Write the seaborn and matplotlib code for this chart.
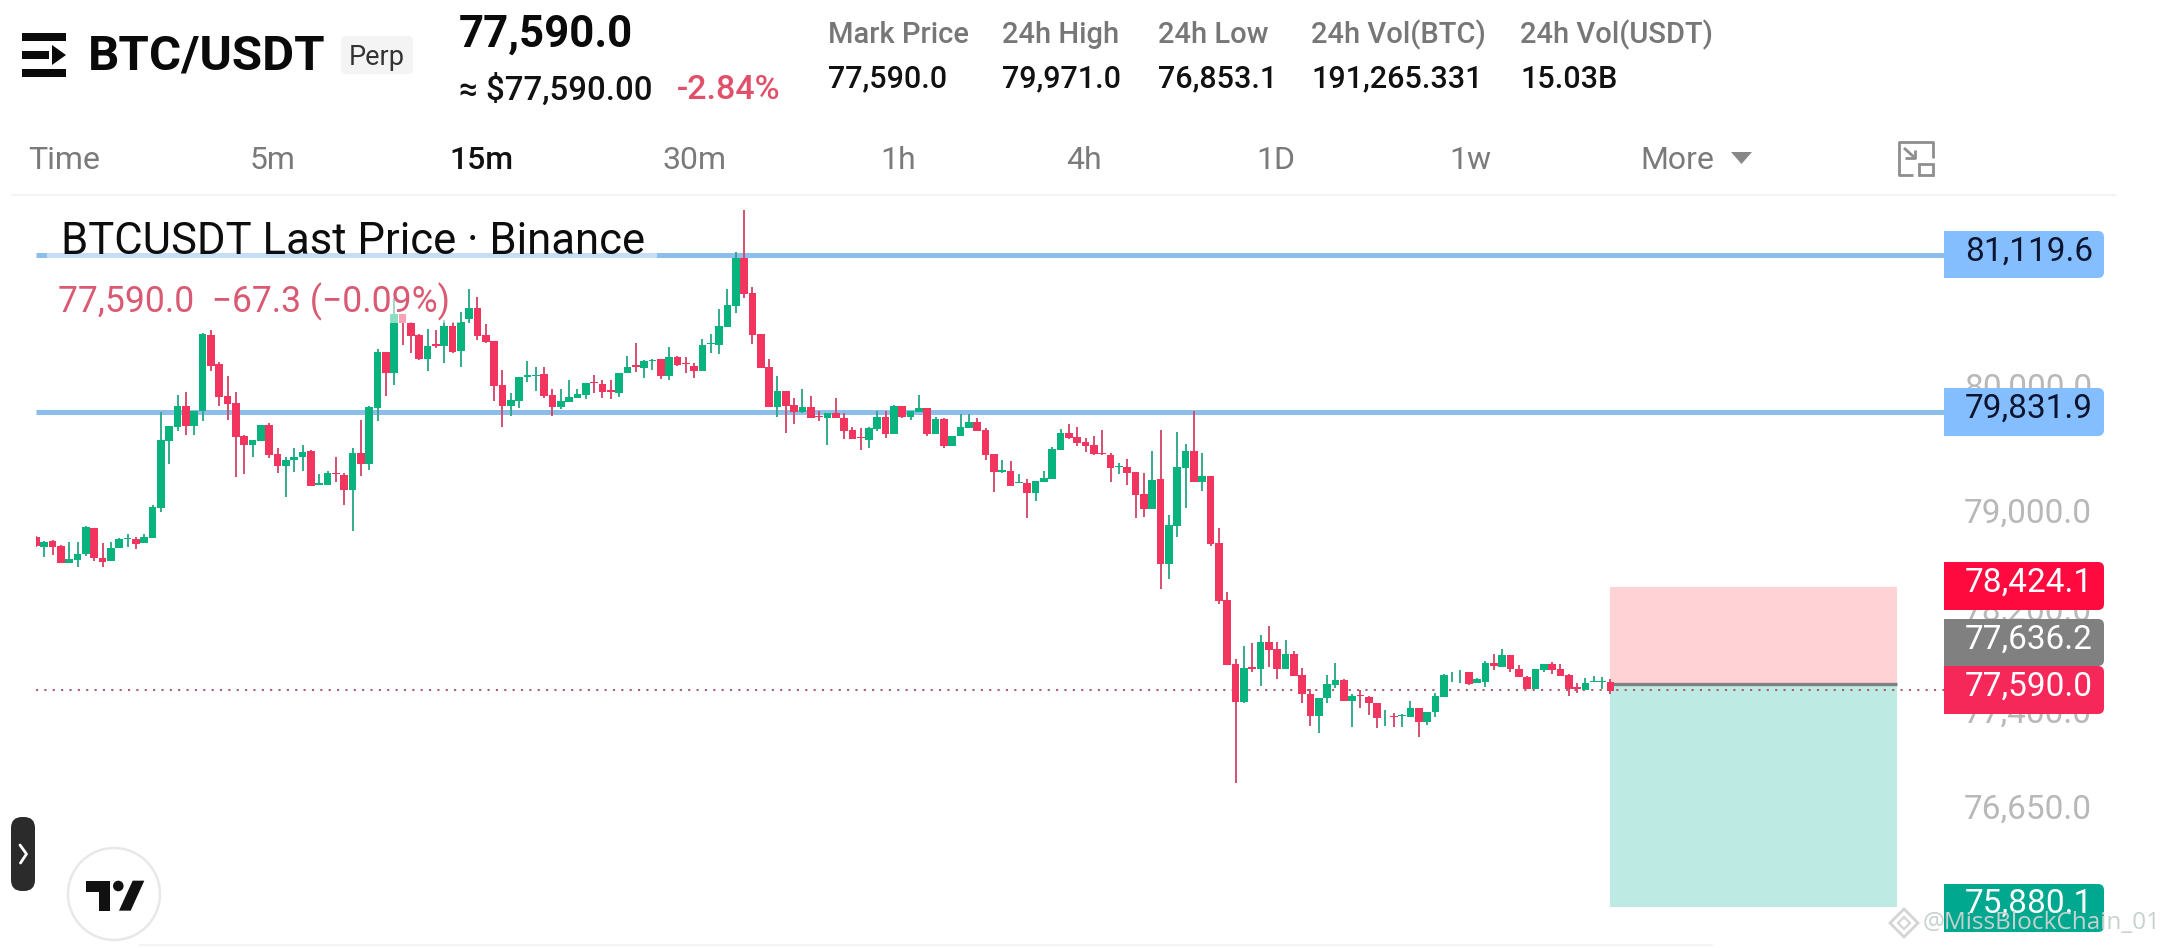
import numpy as np
import pandas as pd
import seaborn as sns
import matplotlib
matplotlib.use("Agg")
import matplotlib.pyplot as plt
from matplotlib.patches import FancyBboxPatch, Rectangle, Polygon, Circle
from matplotlib.transforms import ScaledTranslation

# ---- data -----------------------------------------------------------------
direction = ("RGRRGGGRRG" "GGRGGGGGRG" "GRRRRRGGRR" "GGGRGGRRGR" "GGRGRRRGRG"
             "RGGRRRRGGG" "GRRGGGGRRR" "GGRGGRGRRR" "GGGGGRRRRG" "RRGRRGRRRR"
             "GGRGRGGRGR" "GGGRRRGRGR" "GGGGRRRRRR" "GRRRGRGGGR" "GRRRRGRGRR"
             "GRRRGGGRGR" "RRGRGGRGGG" "GGRGGRGRRR" "GGRRRRGGGR")

body_top = [
 78827,78787,78795,78752,78644,78687,78903,78895,78658,78733,
 78806,78814,78806,78822,79070,79608,79721,79882,79882,79845,
 80463,80455,80221,79963,79904,79640,79608,79729,79729,79495,
 79446,79473,79514,79522,79258,79339,79344,79325,79500,79500,
 79877,80315,80315,80625,80625,80555,80455,80369,80380,80528,
 80528,80563,80671,80671,80455,80407,80052,79931,80114,80132,
 80132,80141,79971,79923,79952,79979,80065,80079,80060,80012,
 80146,80200,80213,80246,80254,80259,80275,80281,80232,80205,
 80375,80388,80528,80698,81074,81074,80792,80463,80194,80003,
 80003,79890,79871,79871,79804,79823,79823,79783,79688,79629,
 79705,79791,79791,79882,79882,79839,79863,79863,79777,79777,
 79643,79710,79750,79750,79689,79492,79366,79358,79269,79258,
 79277,79299,79533,79662,79662,79630,79595,79568,79506,79487,
 79398,79387,79347,79169,79285,79293,78922,79387,79519,79519,
 79317,79317,78774,78316,77800,77765,77773,77975,77975,77918,
 77878,77878,77711,77555,77528,77636,77671,77671,77541,77549,
 77536,77482,77374,77380,77388,77442,77442,77415,77541,77711,
 77730,77738,77732,77676,77810,77810,77872,77872,77759,77697,
 77756,77797,77800,77756,77711,77617,77643,77662,77662,77652]
body_bottom = [
 78752,78747,78747,78617,78617,78639,78685,78652,78626,78634,
 78733,78806,78768,78774,78819,79062,79602,79715,79723,79723,
 79845,80208,79958,79898,79635,79567,79567,79602,79487,79398,
 79398,79446,79468,79239,79247,79247,79333,79204,79204,79414,
 79414,79863,80151,80151,80550,80450,80262,80262,80367,80369,
 80321,80329,80582,80447,80402,80046,79885,79885,79925,80119,
 80124,79963,79877,79877,79917,79950,79971,80065,79998,79998,
 79990,80146,80200,80192,80243,80124,80124,80213,80221,80167,
 80165,80380,80375,80523,80692,80784,80455,80192,79877,79877,
 79882,79836,79836,79788,79791,79783,79783,79683,79616,79621,
 79608,79694,79654,79656,79796,79791,79836,79654,79654,79562,
 79562,79643,79707,79683,79487,79352,79352,79237,79258,79183,
 79183,79272,79291,79527,79627,79581,79562,79495,79498,79379,
 79387,79344,79164,79051,79051,78604,78604,78914,79385,79266,
 79272,78768,78308,77792,77496,77496,77762,77757,77913,77757,
 77757,77706,77555,77383,77383,77528,77630,77504,77504,77541,
 77482,77366,77369,77369,77380,77374,77334,77334,77415,77536,
 77724,77732,77638,77643,77657,77783,77778,77756,77692,77595,
 77595,77751,77751,77705,77600,77600,77590,77654,77654,77582]
highs = [
 78833,78792,78800,78760,78782,78782,78913,78895,78779,78782,
 78819,78849,78822,78849,79083,79836,79721,79971,79998,79845,
 80474,80496,80240,80124,79998,79648,79608,79729,79742,79540,
 79473,79540,79567,79527,79333,79357,79473,79339,79540,79769,
 79882,80340,80321,80751,80625,80563,80463,80501,80496,80577,
 80563,80644,80827,80765,80544,80407,80173,79984,80114,80246,
 80194,80194,80017,80019,80092,80017,80071,80132,80092,80092,
 80151,80286,80388,80254,80259,80259,80361,80286,80275,80232,
 80423,80463,80663,80827,81123,81465,80840,80463,80262,80124,
 80003,79944,80017,79963,79845,79828,79944,79828,79715,79702,
 79710,79845,79845,79890,79882,79839,79968,79863,79796,79783,
 79643,79818,79818,79783,79702,79492,79447,79439,79334,79291,
 79277,79358,79549,79697,79737,79710,79622,79640,79689,79500,
 79425,79452,79347,79339,79519,79689,79003,79670,79576,79842,
 79506,79317,78895,78384,77837,77945,77972,78034,78107,77975,
 77993,77907,77765,77595,77528,77711,77805,77676,77558,77590,
 77541,77482,77428,77401,77396,77501,77442,77415,77563,77719,
 77738,77751,77738,77684,77826,77880,77918,77872,77791,77703,
 77756,77797,77813,77800,77716,77649,77684,77703,77697,77678]
lows = [
 78747,78666,78679,78617,78617,78580,78674,78634,78585,78634,
 78733,78747,78728,78774,78819,79029,79414,79683,79648,79648,
 79764,80167,79882,79769,79312,79333,79473,79602,79460,79344,
 79145,79352,79360,79239,79247,79247,79271,79083,78876,79317,
 79366,79764,79963,80052,80375,80307,80254,80167,80348,80232,
 80313,80200,80555,80415,80394,79925,79715,79804,79869,80079,
 80006,79944,79804,79855,79917,79944,79936,79990,79944,79939,
 79958,80146,80159,80106,80173,80100,80092,80208,80146,80106,
 80165,80307,80302,80523,80636,80751,80383,80192,79877,79796,
 79667,79737,79828,79783,79764,79567,79783,79616,79613,79527,
 79546,79683,79627,79656,79783,79769,79836,79643,79654,79546,
 79562,79643,79707,79683,79447,79191,79344,79237,79258,78976,
 79118,79272,79291,79527,79613,79560,79514,79487,79487,79272,
 79334,79245,78981,78989,79051,78405,78486,78822,79062,79266,
 79199,78755,78281,77792,76842,77482,77738,77625,77778,77676,
 77757,77706,77482,77302,77240,77487,77603,77504,77288,77442,
 77388,77280,77299,77294,77288,77374,77208,77307,77369,77536,
 77652,77649,77630,77643,77611,77751,77778,77738,77692,77595,
 77595,77738,77719,77705,77544,77563,77590,77654,77595,77555]

level_prices = [81100.0, 79831.9]
last_price = 77590.0
entry_price = 77636.2
stop_price = 78424.1
target_drawn = 75835.0
y_ticks = [81000, 80000, 79000, 78200, 77400, 76650]
y_tick_lift_px = [7.6, 6.5, 5, 6, 3.5, 0]

price_tags = ["81,119.6", "79,831.9", "78,424.1", "77,636.2", "77,590.0", "75,880.1"]
tag_colors = ["#85BEFF", "#85BEFF", "#FF0A3F", "#808080", "#F6285A", "#00A88F"]
tag_text = ["#0B1530", "#0B1530", "white", "white", "white", "white"]
tag_spans = [(231, 278), (388, 436), (562, 610), (619, 666), (666, 714), (884, 932)]
tag_text_lift = [3, 3, 3, 3, 3, 4.5]

stat_names = ["Mark Price", "24h High", "24h Low", "24h Vol(BTC)", "24h Vol(USDT)"]
stat_values = ["77,590.0", "79,971.0", "76,853.1", "191,265.331", "15.03B"]
stat_x = [828, 1002, 1158, 1311, 1520]
intervals = ["Time", "5m", "15m", "30m", "1h", "4h", "1D", "1w", "More"]
interval_x = [28, 250, 449, 663, 880, 1066, 1256, 1449, 1640]

# ---- style ----------------------------------------------------------------
sns.set_theme(style="white")
plt.rcParams["font.family"] = ["Roboto", "DejaVu Sans"]

df = pd.DataFrame({"i": np.arange(len(direction)), "dir": list(direction),
                   "top": body_top, "bottom": body_bottom,
                   "high": highs, "low": lows})
UP, DOWN = "#09B37E", "#F2355F"
UP_W, DOWN_W = "#2BA888", "#D4486A"

W, H = 2173, 948
fig = plt.figure(figsize=(W / 100, H / 100), dpi=100, facecolor="white")
L, R, T, B = 36, 1944, 196, 945
ax = fig.add_axes([L / W, 1 - B / H, (R - L) / W, (B - T) / H])
ax.set_facecolor("white")

# position tool
ax.add_patch(Rectangle((188.96, entry_price), 34.45, stop_price - entry_price,
                       fc="#FFD3D6", ec="none", zorder=1))
ax.add_patch(Rectangle((188.96, target_drawn), 34.45, entry_price - target_drawn,
                       fc="#BDEAE3", ec="none", zorder=1))

xmax = (R - L) / 8.33
for lv in level_prices:
    sns.lineplot(x=[0, xmax], y=[lv, lv], color="#8DBDEB", lw=3.6, ax=ax,
                 legend=False, zorder=2, solid_capstyle="butt")
sns.lineplot(x=[188.96, 223.41], y=[entry_price, entry_price], color="#808080", lw=2.4,
             ax=ax, legend=False, zorder=2, solid_capstyle="butt")
sns.lineplot(x=[0, xmax], y=[last_price, last_price], color="#A85A6A", lw=1.4, ax=ax,
             legend=False, zorder=3, linestyle=(0, (1.1, 3.2)))

for d, bc, wc in (("G", UP, UP_W), ("R", DOWN, DOWN_W)):
    s = df[df["dir"] == d]
    ax.vlines(s["i"], s["low"], s["high"], color=wc, lw=1.35, zorder=4)
    ax.bar(s["i"], s["top"] - s["bottom"], bottom=s["bottom"], width=0.92,
           color=bc, linewidth=0, zorder=5)

ax.set_xlim(0, xmax)
ax.set_ylim(75531, 81578)
ax.set_xlabel("")
ax.set_ylabel("")
ax.set_xticks([])
ax.yaxis.tick_right()
ax.set_yticks(y_ticks)
ax.set_yticklabels([f"{v:,.1f}" for v in y_ticks], fontsize=24, color="#B8B8B8")
ax.tick_params(axis="y", length=0, pad=14.5)
for lab, lift in zip(ax.get_yticklabels(), y_tick_lift_px):
    lab.set_transform(lab.get_transform() + ScaledTranslation(0, lift / 100, fig.dpi_scale_trans))
for sp in ax.spines.values():
    sp.set_visible(False)

# ---- page furniture in pixel coordinates ------------------------------------
ov = fig.add_axes([0, 0, 1, 1], zorder=10)
ov.set_xlim(0, W)
ov.set_ylim(H, 0)
ov.axis("off")
ov.patch.set_alpha(0)

def txt(x, y, s, size, color="black", weight="normal", ha="left", **kw):
    return ov.text(x, y, s, fontsize=size, color=color, fontweight=weight,
                   ha=ha, va="center", **kw)

# separators
ov.plot([12, 2115], [195, 195], color="#F3F3F3", lw=1.6)
ov.plot([140, 1712], [945, 945], color="#F3F3F3", lw=1.6)

# legend fade over the chart
ov.add_patch(Rectangle((47, 222), 610, 36, fc="white", alpha=0.5, ec="none"))
ov.add_patch(Rectangle((47, 265), 413, 58, fc="white", alpha=0.55, ec="none"))
txt(61, 241.5, "BTCUSDT Last Price · Binance", 31.4, color="#0D0D0D")
txt(58, 301.5, "77,590.0  −67.3 (−0.09%)", 25.6, color="#D95A72")

# header
for y0, y1 in ((33, 41), (69, 77)):
    ov.add_patch(Rectangle((22, y0), 44, y1 - y0, fc="#0A0A0A", ec="none"))
ov.add_patch(Rectangle((22, 51), 27, 8, fc="#0A0A0A", ec="none"))
ov.add_patch(Polygon([(52, 45), (66, 55), (52, 65)], fc="#0A0A0A", ec="none"))
txt(88, 56, "BTC/USDT", 35.5, weight="bold", color="#0A0A0A")
ov.add_patch(FancyBboxPatch((345, 40), 64, 30, boxstyle="round,pad=4,rounding_size=5",
                            fc="#F4F4F4", ec="none"))
txt(377, 57, "Perp", 19.5, color="#333333", ha="center")
txt(459, 35, "77,590.0", 31.5, weight="bold", color="#0A0A0A")
txt(459, 90, "≈ $77,590.00", 23.8, weight="medium", color="#111111")
txt(677, 90, "-2.84%", 24.5, weight="medium", color="#E0506A")
for x, n, v in zip(stat_x, stat_names, stat_values):
    txt(x, 35, n, 21, color="#777777", weight="medium")
    txt(x, 79, v, 22, color="#111111", weight="medium")

for x, s in zip(interval_x, intervals):
    active = s == "15m"
    txt(x, 160.5, s, 23, color="#111111" if active else "#7A7A7A",
        weight="medium" if active else "normal")
ov.add_patch(Polygon([(1731, 152), (1752, 152), (1741.5, 164)], fc="#888888", ec="none"))

# expand icon
icon = dict(color="#8E8E8E", lw=2, solid_capstyle="butt", solid_joinstyle="round")
ov.plot([1913, 1899, 1899, 1933, 1933], [175, 175, 142, 142, 158], **icon)
ov.add_patch(Rectangle((1919, 164), 14, 11, fc="white", ec="#8E8E8E", lw=2))
ov.plot([1904, 1914], [148, 157], **icon)
ov.plot([1915, 1915, 1905], [150, 158, 158], **icon)

# price tags
for label, c, tc, (y0, y1), lift in zip(price_tags, tag_colors, tag_text, tag_spans, tag_text_lift):
    ov.add_patch(FancyBboxPatch((1944, y0), 160, y1 - y0,
                                boxstyle="round,pad=0,rounding_size=6",
                                fc=c, ec="none"))
    ov.add_patch(Rectangle((1944, y0), 10, y1 - y0, fc=c, ec="none"))
    txt(1965, (y0 + y1) / 2 - lift, label, 24, color=tc)

# TradingView badge and side pill
ov.add_patch(Circle((114, 894), 46, fc="white", ec="#E8E8E8", lw=1.8))
def z(pts):
    return [(a / 3, 780 + b / 3) for a, b in pts]
ov.add_patch(Polygon(z([(257, 302), (330, 302), (330, 392), (297, 392), (297, 335), (257, 335)]),
                     fc="#111111", ec="none"))
ov.add_patch(Polygon(z([(398, 302), (433, 302), (392, 392), (357, 392)]), fc="#111111", ec="none"))
ov.add_patch(Circle((118.3, 886), 5.3, fc="#111111", ec="none"))
ov.add_patch(FancyBboxPatch((11, 817), 24, 74, boxstyle="round,pad=0,rounding_size=11",
                            fc="#2B2B2B", ec="none"))
ov.plot([20, 26.5, 20.5], [845, 854, 863], color="white", lw=2)

# watermark
ov.add_patch(Polygon([(1904, 909), (1918, 923), (1904, 937), (1890, 923)], fc="none",
                     ec="#D0D0D0", lw=2, alpha=0.9))
ov.add_patch(Polygon([(1904, 917), (1910, 923), (1904, 929), (1898, 923)], fc="none",
                     ec="#D0D0D0", lw=1.6, alpha=0.9))
txt(1923, 923, "@MissBlockChain_01", 17.6, color="#C6D2CF", family=["Open Sans", "DejaVu Sans"])

fig.savefig("out.png", dpi=100, facecolor="white")
